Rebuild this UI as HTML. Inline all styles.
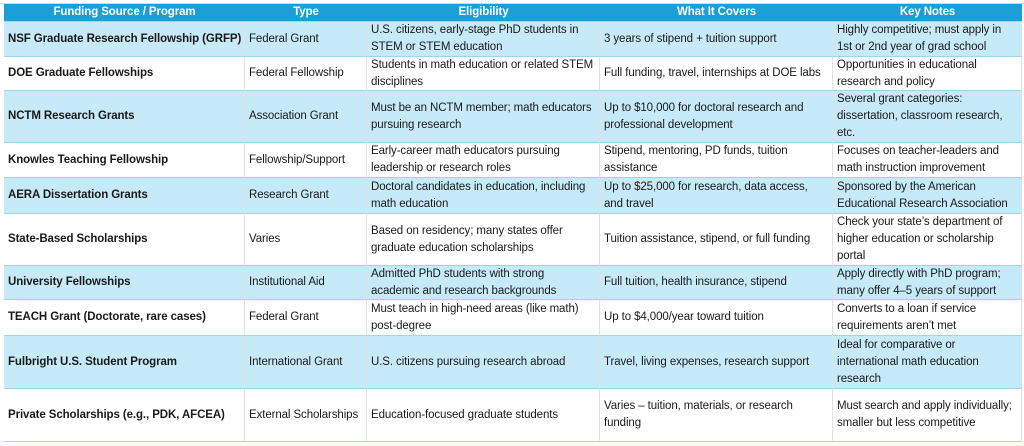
<!DOCTYPE html>
<html><head><meta charset="utf-8"><style>
body{margin:0;width:1024px;height:446px;background:#fff;overflow:hidden;font-family:"Liberation Sans",sans-serif;font-size:11.5px;color:#1a1a1a}
.grid{position:absolute;left:0;top:0;width:1024px;height:446px;}
.top{position:absolute;left:0;top:0;width:1024px;height:3px;border-bottom:1px solid #d8d8d8;background:#fff}
.c{position:absolute;box-sizing:border-box;border-right:1px solid #e2e2e2;border-bottom:1px solid #9fd4ee;display:flex;align-items:center;padding:0 4px;white-space:nowrap;line-height:17px;letter-spacing:-0.1px}
.h{background:#1b9fd7;color:#fff;font-weight:bold;justify-content:center;border-bottom:1px solid #9fd4ee;border-right:none}
.b{background:#c7eaf9}
.w{background:#fff}
.f{font-weight:bold}
</style></head><body>
<div class="top"></div>
<div class="grid" id="g"></div>
<script>
const xs=[4,245,367,600,833,1022];
const ys=[4,22,57,91,143,178,214,266,300,336,389,442];
const rows=[
["Funding Source / Program","Type","Eligibility","What It Covers","Key Notes"],
["NSF Graduate Research Fellowship (GRFP)","Federal Grant","U.S. citizens, early-stage PhD students in<br>STEM or STEM education","3 years of stipend + tuition support","Highly competitive; must apply in<br>1st or 2nd year of grad school"],
["DOE Graduate Fellowships","Federal Fellowship","Students in math education or related STEM<br>disciplines","Full funding, travel, internships at DOE labs","Opportunities in educational<br>research and policy"],
["NCTM Research Grants","Association Grant","Must be an NCTM member; math educators<br>pursuing research","Up to $10,000 for doctoral research and<br>professional development","Several grant categories:<br>dissertation, classroom research,<br>etc."],
["Knowles Teaching Fellowship","Fellowship/Support","Early-career math educators pursuing<br>leadership or research roles","Stipend, mentoring, PD funds, tuition<br>assistance","Focuses on teacher-leaders and<br>math instruction improvement"],
["AERA Dissertation Grants","Research Grant","Doctoral candidates in education, including<br>math education","Up to $25,000 for research, data access,<br>and travel","Sponsored by the American<br>Educational Research Association"],
["State-Based Scholarships","Varies","Based on residency; many states offer<br>graduate education scholarships","Tuition assistance, stipend, or full funding","Check your state’s department of<br>higher education or scholarship<br>portal"],
["University Fellowships","Institutional Aid","Admitted PhD students with strong<br>academic and research backgrounds","Full tuition, health insurance, stipend","Apply directly with PhD program;<br>many offer 4–5 years of support"],
["TEACH Grant (Doctorate, rare cases)","Federal Grant","Must teach in high-need areas (like math)<br>post-degree","Up to $4,000/year toward tuition","Converts to a loan if service<br>requirements aren’t met"],
["Fulbright U.S. Student Program","International Grant","U.S. citizens pursuing research abroad","Travel, living expenses, research support","Ideal for comparative or<br>international math education<br>research"],
["Private Scholarships (e.g., PDK, AFCEA)","External Scholarships","Education-focused graduate students","Varies – tuition, materials, or research<br>funding","Must search and apply individually;<br>smaller but less competitive"]
];
let h='';
rows.forEach((r,i)=>{
 r.forEach((t,j)=>{
  let cls='c '+(i==0?'h':(i%2?'b':'w'))+(i>0&&j==0?' f':'');
  h+=`<div class="${cls}" style="left:${xs[j]}px;top:${ys[i]}px;width:${xs[j+1]-xs[j]}px;height:${ys[i+1]-ys[i]}px">${t}</div>`;
 });
});
document.getElementById('g').innerHTML=h;
</script>
</body></html>
